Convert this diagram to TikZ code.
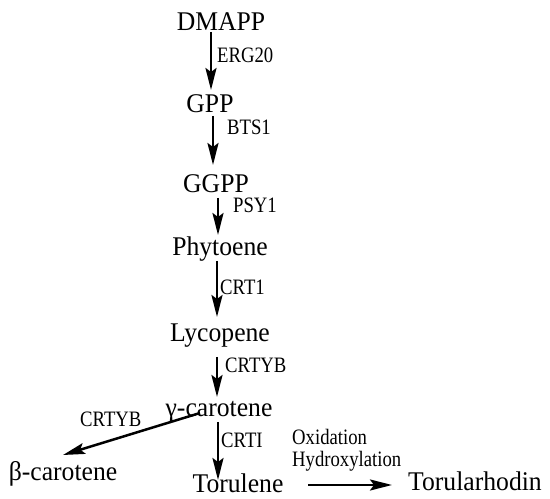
\documentclass[tikz,border=0pt]{standalone}
\usepackage{fontspec}
\setmainfont{Liberation Serif}
\newfontfamily\cmpfont[FakeStretch=0.95]{Liberation Serif}
\newfontfamily\labfont[FakeStretch=0.85]{Liberation Serif}
\usetikzlibrary{arrows.meta}
\begin{document}
\begin{tikzpicture}[x=1pt,y=1pt,
  cmp/.style={anchor=base,inner sep=0pt,font=\cmpfont\fontsize{27}{27}\selectfont},
  lab/.style={anchor=base west,inner sep=0pt,font=\labfont\fontsize{22}{22}\selectfont},
  arr/.style={line width=2.5pt,-{Stealth[length=22pt,width=11pt,inset=4pt]}}]
\useasboundingbox (0,0) rectangle (550,499);
\node[cmp] (DMAPP) at (221,468) {DMAPP};
\node[cmp] (GPP) at (210,386) {GPP};
\node[cmp] (GGPP) at (216,306) {GGPP};
\node[cmp] (Phytoene) at (220,243) {Phytoene};
\node[cmp] (Lycopene) at (220,157) {Lycopene};
\node[cmp] (gamma) at (219,82) {γ-carotene};
\node[cmp] (Torulene) at (238,6) {Torulene};
\node[cmp] (beta) at (63,19) {β-carotene};
\node[cmp] (Torularhodin) at (475,9) {Torularhodin};
\node[lab] (ERG) at (217,436) {ERG20};
\node[lab] (BTS) at (227,364) {BTS1};
\node[lab] (PSY) at (233,286) {PSY1};
\node[lab] (CRT) at (220,204) {CRT1};
\node[lab] (CRTYBa) at (225,126) {CRTYB};
\node[lab] (CRTI) at (221,52) {CRTI};
\node[lab] (CRTYBb) at (80,72) {CRTYB};
\node[lab] (Ox) at (292,54) {Oxidation};
\node[lab] (Hyd) at (292,32) {Hydroxylation};
\draw[arr] ([shift={(-10,-1)}]DMAPP.base) -- ([shift={(1,23)}]GPP.base);
\draw[arr] ([shift={(3,-3)}]GPP.base) -- ([shift={(-3,28)}]GGPP.base);
\draw[arr] ([shift={(2,-5)}]GGPP.base) -- ([shift={(-2,21)}]Phytoene.base);
\draw[arr] ([shift={(-3,-5)}]Phytoene.base) -- ([shift={(-3,25)}]Lycopene.base);
\draw[arr] ([shift={(-3,-15)}]Lycopene.base) -- ([shift={(-2,20)}]gamma.base);
\draw[arr] ([shift={(-1,-5)}]gamma.base) -- ([shift={(-20,13)}]Torulene.base);
\draw[arr] ([shift={(-19,4)}]gamma.base) -- ([shift={(0,25)}]beta.base);
\draw[arr] ([shift={(70,8)}]Torulene.base) -- ([shift={(-83,5)}]Torularhodin.base);
\end{tikzpicture}
\end{document}
